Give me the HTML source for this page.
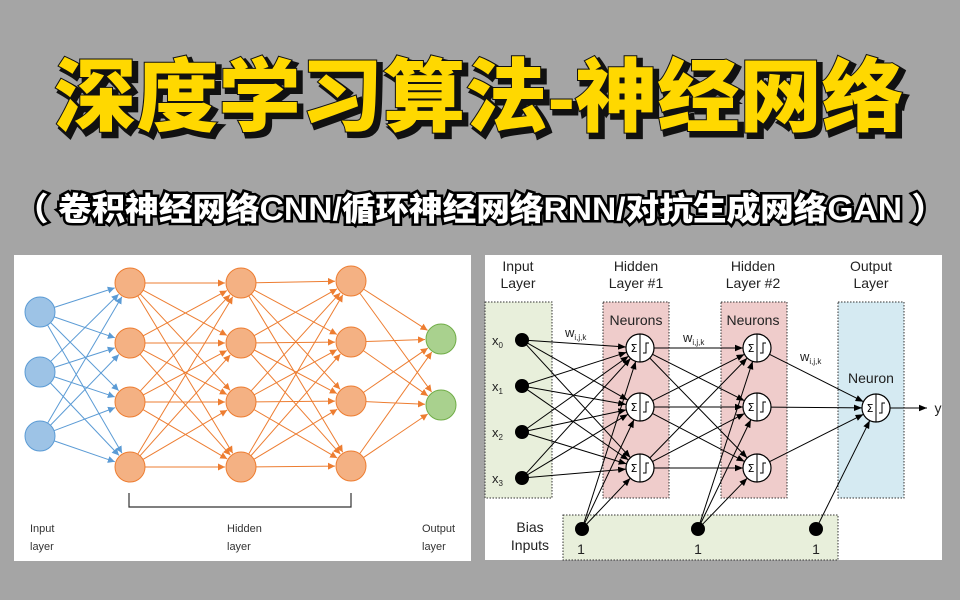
<!DOCTYPE html>
<html><head><meta charset="utf-8">
<style>
html,body{margin:0;padding:0;background:#a5a5a5;}
svg{display:block}
</style></head>
<body>
<svg id="s" width="960" height="600" viewBox="0 0 960 600" xmlns="http://www.w3.org/2000/svg">
<defs>
<marker id="ab" viewBox="0 0 10 10" refX="10" refY="5" markerWidth="7" markerHeight="7" orient="auto" markerUnits="userSpaceOnUse"><path d="M0,0 L10,5 L0,10 z" fill="#5b9bd5"/></marker>
<marker id="ao" viewBox="0 0 10 10" refX="10" refY="5" markerWidth="7" markerHeight="7" orient="auto" markerUnits="userSpaceOnUse"><path d="M0,0 L10,5 L0,10 z" fill="#ed7d31"/></marker>
<marker id="ak" viewBox="0 0 10 10" refX="10" refY="5" markerWidth="8" markerHeight="8" orient="auto" markerUnits="userSpaceOnUse"><path d="M0,1 L10,5 L0,9 z" fill="#000"/></marker>
</defs>
<rect width="960" height="600" fill="#a5a5a5"/>
<g font-family="'Liberation Sans','Noto Sans CJK SC',sans-serif" font-weight="900">
<text x="483" y="129" text-anchor="middle" font-size="80" textLength="850" lengthAdjust="spacingAndGlyphs" fill="#111" stroke="#111" stroke-width="5">深度学习算法-神经网络</text>
<text x="479" y="125" text-anchor="middle" font-size="80" textLength="850" lengthAdjust="spacingAndGlyphs" fill="#ffd800" stroke="#111" stroke-width="2" paint-order="stroke">深度学习算法-神经网络</text>
<text x="480" y="220" text-anchor="middle" font-size="32" textLength="930" lengthAdjust="spacingAndGlyphs" fill="#fff" stroke="#000" stroke-width="5" paint-order="stroke">（ 卷积神经网络CNN/循环神经网络RNN/对抗生成网络GAN ）</text>
</g>
<rect x="14" y="255" width="457" height="306" fill="#fff"/>
<g id="L"></g>
<path d="M129,493 V507 H351 V493" fill="none" stroke="#333" stroke-width="1.2"/>
<g font-family="'Liberation Sans','DejaVu Sans',sans-serif" font-size="11" fill="#333">
<text x="30" y="532">Input</text><text x="30" y="550">layer</text>
<text x="227" y="532">Hidden</text><text x="227" y="550">layer</text>
<text x="422" y="532">Output</text><text x="422" y="550">layer</text>
</g>
<rect x="485" y="255" width="457" height="305" fill="#fff"/>
<g stroke="#333" stroke-width="1" stroke-dasharray="1.5,1.5">
<rect x="485" y="302" width="67" height="196" fill="#e8efdb"/>
<rect x="603" y="302" width="66" height="196" fill="#efcccb"/>
<rect x="721" y="302" width="66" height="196" fill="#efcccb"/>
<rect x="838" y="302" width="66" height="196" fill="#d5eaf2"/>
<rect x="563" y="515" width="275" height="45" fill="#e8efdb"/>
</g>
<g id="R"></g>
<g font-family="'Liberation Sans',sans-serif" font-size="14" fill="#222" text-anchor="middle">
<text x="518" y="271">Input</text><text x="518" y="288">Layer</text>
<text x="636" y="271">Hidden</text><text x="636" y="288">Layer #1</text>
<text x="753" y="271">Hidden</text><text x="753" y="288">Layer #2</text>
<text x="871" y="271">Output</text><text x="871" y="288">Layer</text>
<text x="636" y="325">Neurons</text><text x="753" y="325">Neurons</text>
<text x="871" y="383">Neuron</text>
<text x="530" y="532">Bias</text><text x="530" y="550">Inputs</text>
<text x="581" y="554">1</text><text x="698" y="554">1</text><text x="816" y="554">1</text>
<text x="938" y="413">y</text>
</g>
<g font-family="'Liberation Sans',sans-serif" font-size="13" fill="#222">
<text x="492" y="345">x<tspan font-size="8" dy="3">0</tspan></text>
<text x="492" y="391">x<tspan font-size="8" dy="3">1</tspan></text>
<text x="492" y="437">x<tspan font-size="8" dy="3">2</tspan></text>
<text x="492" y="483">x<tspan font-size="8" dy="3">3</tspan></text>
<text x="565" y="337">w<tspan font-size="8" dy="3">i,j,k</tspan></text>
<text x="683" y="342">w<tspan font-size="8" dy="3">i,j,k</tspan></text>
<text x="800" y="361">w<tspan font-size="8" dy="3">i,j,k</tspan></text>
</g>
</svg>
<script>
var NS="http://www.w3.org/2000/svg";
function el(p,t,a){var e=document.createElementNS(NS,t);for(var k in a)e.setAttribute(k,a[k]);p.appendChild(e);return e;}
function edge(g,a,b,ra,rb,col,m,w){var dx=b[0]-a[0],dy=b[1]-a[1],d=Math.sqrt(dx*dx+dy*dy);
el(g,"line",{x1:a[0]+dx/d*ra,y1:a[1]+dy/d*ra,x2:b[0]-dx/d*rb,y2:b[1]-dy/d*rb,stroke:col,"stroke-width":w,"marker-end":"url(#"+m+")"});}
var L=document.getElementById("L");
var inp=[[40,312],[40,372],[40,436]];
var h1=[[130,283],[130,343],[130,402],[130,467]];
var h2=[[241,283],[241,343],[241,402],[241,467]];
var h3=[[351,281],[351,342],[351,401],[351,466]];
var out=[[441,339],[441,405]];
inp.forEach(a=>h1.forEach(b=>edge(L,a,b,15,16,"#5b9bd5","ab",1)));
[[h1,h2],[h2,h3],[h3,out]].forEach(p=>p[0].forEach(a=>p[1].forEach(b=>edge(L,a,b,15,16,"#ed7d31","ao",1))));
inp.forEach(c=>el(L,"circle",{cx:c[0],cy:c[1],r:15,fill:"#9dc3e6",stroke:"#5b9bd5","stroke-width":1}));
h1.concat(h2,h3).forEach(c=>el(L,"circle",{cx:c[0],cy:c[1],r:15,fill:"#f4b183",stroke:"#ed7d31","stroke-width":1}));
out.forEach(c=>el(L,"circle",{cx:c[0],cy:c[1],r:15,fill:"#a9d18e",stroke:"#70ad47","stroke-width":1}));
var R=document.getElementById("R");
var xi=[[522,340],[522,386],[522,432],[522,478]];
var n1=[[640,348],[640,407],[640,468]];
var n2=[[757,348],[757,407],[757,468]];
var no=[[876,408]];
var bias=[[582,529],[698,529],[816,529]];
function ed(a,b,ra){edge(R,a,b,ra,14,"#000","ak",1);}
xi.forEach(a=>n1.forEach(b=>ed(a,b,6)));
n1.forEach(a=>n2.forEach(b=>ed(a,b,14)));
n2.forEach(a=>ed(a,no[0],14));
n1.forEach(b=>ed(bias[0],b,6));
n2.forEach(b=>ed(bias[1],b,6));
ed(bias[2],no[0],6);
el(R,"line",{x1:890,y1:408,x2:927,y2:408,stroke:"#000","stroke-width":1,"marker-end":"url(#ak)"});
xi.concat(bias).forEach(c=>el(R,"circle",{cx:c[0],cy:c[1],r:7,fill:"#000"}));
n1.concat(n2,no).forEach(c=>{
 el(R,"circle",{cx:c[0],cy:c[1],r:14,fill:"#fff",stroke:"#000","stroke-width":1.2});
 el(R,"line",{x1:c[0],y1:c[1]-14,x2:c[0],y2:c[1]+14,stroke:"#000","stroke-width":1});
 var t=el(R,"text",{x:c[0]-6,y:c[1]+4,"font-size":"11","font-family":"DejaVu Sans,sans-serif","text-anchor":"middle",fill:"#000"});t.textContent="Σ";
 el(R,"path",{d:"M"+(c[0]+3)+","+(c[1]+5)+" h3 v-10 h3",fill:"none",stroke:"#000","stroke-width":1});
});
</script>
</body></html>
